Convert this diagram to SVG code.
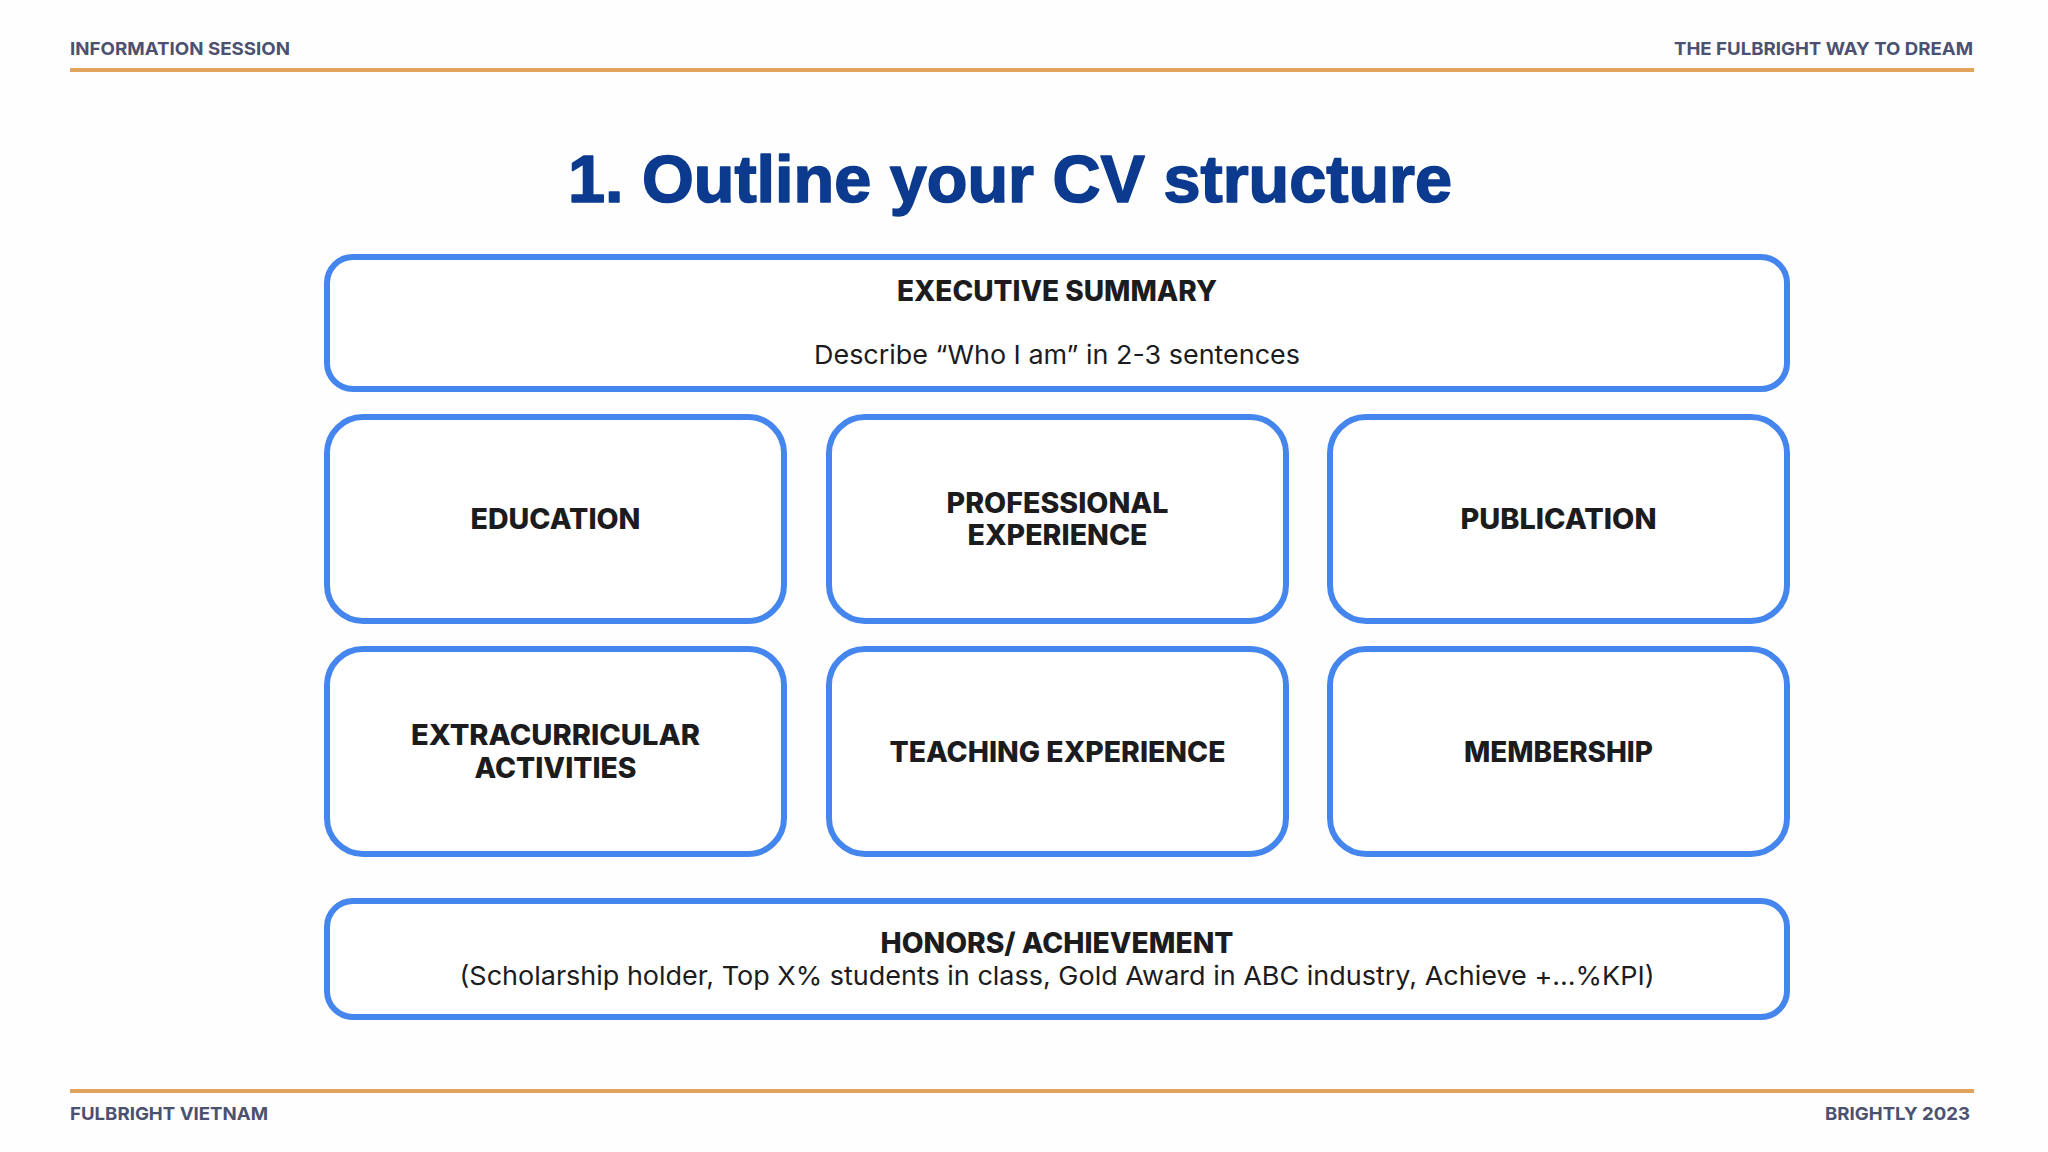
<svg xmlns="http://www.w3.org/2000/svg" width="2048" height="1152" viewBox="0 0 2048 1152">
<style>
.hdr{font-family:Inter,"Liberation Sans",sans-serif;font-weight:700;font-size:18px;fill:#4b5170}
.rule{stroke:#E2A35C;stroke-width:4;fill:none}
.box{fill:#FFFFFF;stroke:#4485EE;stroke-width:6}
.lbl{font-family:Inter,"Liberation Sans",sans-serif;font-weight:800;font-size:28px;fill:#1c1c1e;text-anchor:middle}
.body{font-family:Inter,"Liberation Sans",sans-serif;font-weight:400;font-size:26px;fill:#1c1c1e;text-anchor:middle}
.title{font-family:"Liberation Sans",Arial,sans-serif;font-weight:700;font-size:66px;fill:#0B3A8E;stroke:#0B3A8E;stroke-width:1.6;stroke-linejoin:round}
</style>
<rect x="0" y="0" width="2048" height="1152" fill="#FEFEFE"/>
<g id="header">
<text class="hdr" x="70" y="55" textLength="220" lengthAdjust="spacingAndGlyphs">INFORMATION SESSION</text>
<text class="hdr" x="1674" y="55" textLength="299" lengthAdjust="spacingAndGlyphs">THE FULBRIGHT WAY TO DREAM</text>
<line class="rule" x1="70" y1="70" x2="1974" y2="70"/>
</g>
<g id="footer">
<line class="rule" x1="70" y1="1091" x2="1974" y2="1091"/>
<text class="hdr" x="70" y="1120" textLength="198" lengthAdjust="spacingAndGlyphs">FULBRIGHT VIETNAM</text>
<text class="hdr" x="1825" y="1120" textLength="145" lengthAdjust="spacingAndGlyphs">BRIGHTLY 2023</text>
</g>
<g id="title">
<text class="title" x="568" y="202" textLength="884" lengthAdjust="spacingAndGlyphs">1. Outline your CV structure</text>
</g>
<g id="connectors"></g>
<g id="executive-summary">
<rect class="box" x="327" y="257" width="1460" height="132" rx="26"/>
<text class="lbl" x="1057" y="301" textLength="320" lengthAdjust="spacingAndGlyphs">EXECUTIVE SUMMARY</text>
<text class="body" x="1057" y="364" textLength="486" lengthAdjust="spacingAndGlyphs">Describe “Who I am” in 2-3 sentences</text>
</g>
<g id="education">
<rect class="box" x="327" y="417" width="457" height="204" rx="36"/>
<text class="lbl" x="555.5" y="529" textLength="170" lengthAdjust="spacingAndGlyphs">EDUCATION</text>
</g>
<g id="professional-experience">
<rect class="box" x="829" y="417" width="457" height="204" rx="36"/>
<text class="lbl" x="1057.5" y="513" textLength="222" lengthAdjust="spacingAndGlyphs">PROFESSIONAL</text>
<text class="lbl" x="1057.5" y="545" textLength="180" lengthAdjust="spacingAndGlyphs">EXPERIENCE</text>
</g>
<g id="publication">
<rect class="box" x="1330" y="417" width="457" height="204" rx="36"/>
<text class="lbl" x="1558.5" y="529" textLength="196" lengthAdjust="spacingAndGlyphs">PUBLICATION</text>
</g>
<g id="extracurricular-activities">
<rect class="box" x="327" y="649" width="457" height="205" rx="36"/>
<text class="lbl" x="555.5" y="745" textLength="289" lengthAdjust="spacingAndGlyphs">EXTRACURRICULAR</text>
<text class="lbl" x="555.5" y="778" textLength="162" lengthAdjust="spacingAndGlyphs">ACTIVITIES</text>
</g>
<g id="teaching-experience">
<rect class="box" x="829" y="649" width="457" height="205" rx="36"/>
<text class="lbl" x="1057.5" y="762" textLength="336" lengthAdjust="spacingAndGlyphs">TEACHING EXPERIENCE</text>
</g>
<g id="membership">
<rect class="box" x="1330" y="649" width="457" height="205" rx="36"/>
<text class="lbl" x="1558.5" y="762" textLength="189" lengthAdjust="spacingAndGlyphs">MEMBERSHIP</text>
</g>
<g id="honors-achievement">
<rect class="box" x="327" y="901" width="1460" height="116" rx="26"/>
<text class="lbl" x="1057" y="953" textLength="353" lengthAdjust="spacingAndGlyphs">HONORS/ ACHIEVEMENT</text>
<text class="body" x="1057" y="985" textLength="1195" lengthAdjust="spacingAndGlyphs">(Scholarship holder, Top X% students in class, Gold Award in ABC industry, Achieve +...%KPI)</text>
</g>
</svg>
